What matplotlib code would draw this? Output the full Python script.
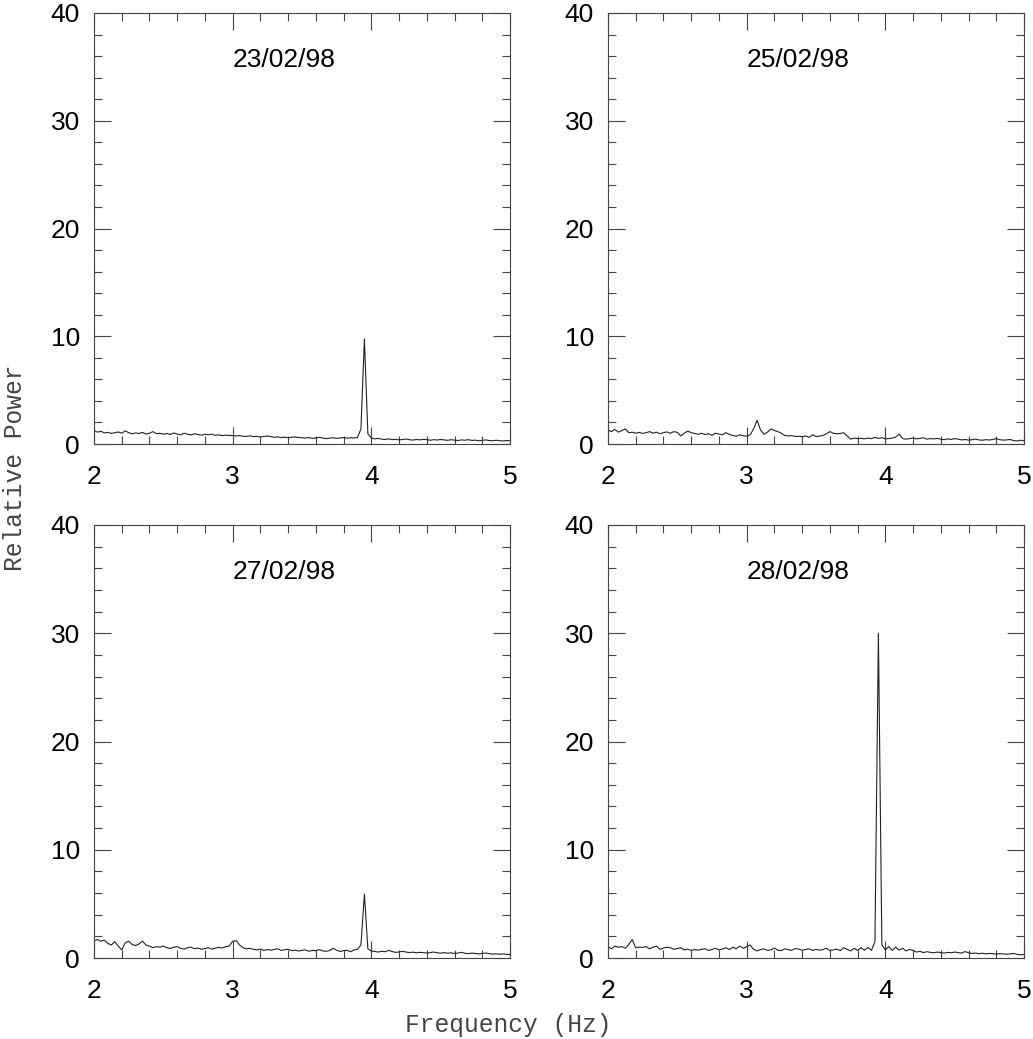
import numpy as np
import matplotlib
matplotlib.use("Agg")
import matplotlib.pyplot as plt
from matplotlib.ticker import MultipleLocator

# Frequency grid (Hz): 2.0 .. 5.0 in steps of 0.025
freq = np.linspace(2.0, 5.0, 121)

dates = ["23/02/98", "25/02/98", "27/02/98", "28/02/98"]

power_2302 = [
    1.25, 1.10, 1.18, 1.02, 1.08, 0.98, 1.05, 1.12, 1.00, 1.22, 1.05, 0.95, 1.02, 0.98, 1.08, 0.92, 1.00, 1.15, 0.95, 1.00, 0.90,
    0.98, 0.88, 1.02, 0.92, 0.85, 1.00, 0.90, 0.85, 0.95, 0.88, 0.82, 0.90, 0.85, 0.92, 0.80, 0.85, 0.78, 0.82, 0.80, 0.78,
    0.75, 0.78, 0.72, 0.70, 0.76, 0.68, 0.72, 0.65, 0.70, 0.74, 0.68, 0.62, 0.66, 0.60, 0.64, 0.58, 0.62, 0.66, 0.60, 0.58,
    0.55, 0.60, 0.52, 0.56, 0.62, 0.55, 0.50, 0.54, 0.58, 0.52, 0.56, 0.60, 0.54, 0.58, 0.56, 0.60,
    1.40, 9.75, 0.95,
    0.55, 0.48, 0.52, 0.45, 0.42, 0.48, 0.40, 0.44, 0.38, 0.42, 0.46, 0.40, 0.36, 0.42, 0.38, 0.44, 0.40, 0.35, 0.40, 0.37, 0.42,
    0.38, 0.34, 0.40, 0.36, 0.32, 0.38, 0.35, 0.40, 0.33, 0.36, 0.30, 0.34, 0.38, 0.32, 0.30, 0.35, 0.31, 0.28, 0.32, 0.30,
]

power_2502 = [
    1.30, 1.15, 1.35, 1.10, 1.25, 1.40, 1.05, 1.10, 1.00, 1.08, 0.98, 1.05, 1.15, 1.00, 1.10, 0.95, 1.05, 1.12, 1.00, 1.15, 1.08,
    0.75, 1.00, 1.20, 1.05, 0.98, 0.90, 1.00, 0.88, 0.95, 0.80, 1.00, 0.92, 0.85, 1.05, 0.88, 0.80, 0.72, 0.85, 0.78, 0.72,
    0.85, 1.40, 2.20, 1.30, 0.90, 1.10, 1.40, 1.25, 1.15, 1.00, 0.80, 0.75, 0.78, 0.70, 0.72, 0.68, 0.75, 0.62, 0.85, 0.70,
    0.72, 0.80, 0.95, 1.15, 1.00, 0.95, 0.98, 1.05, 0.75, 0.45, 0.55, 0.50, 0.52, 0.48, 0.55, 0.50, 0.62, 0.52, 0.58, 0.48,
    0.50, 0.55, 0.65, 0.92, 0.50, 0.45, 0.50, 0.55, 0.48, 0.52, 0.58, 0.45, 0.50, 0.48, 0.52, 0.45, 0.40, 0.48, 0.42, 0.50,
    0.45, 0.38, 0.42, 0.36, 0.40, 0.45, 0.38, 0.35, 0.40, 0.37, 0.42, 0.50, 0.40, 0.36, 0.38, 0.42, 0.32, 0.28, 0.35, 0.30,
]

power_2702 = [
    1.60, 1.70, 1.55, 1.65, 1.35, 1.20, 1.50, 1.10, 0.75, 1.40, 1.55, 1.25, 1.15, 1.30, 1.55, 1.20, 1.10, 0.95, 1.05, 1.00, 1.10,
    0.95, 0.88, 1.00, 1.05, 0.90, 0.82, 0.95, 1.00, 0.85, 0.92, 0.80, 0.88, 0.95, 0.82, 0.90, 1.00, 0.92, 1.05, 1.10, 1.55,
    1.60, 1.20, 0.95, 0.85, 0.90, 0.80, 0.75, 0.82, 0.70, 0.78, 0.72, 0.80, 0.85, 0.70, 0.75, 0.82, 0.68, 0.72, 0.65, 0.70,
    0.75, 0.62, 0.70, 0.68, 0.78, 0.65, 0.62, 0.70, 0.90, 0.72, 0.60, 0.68, 0.72, 0.58, 0.75, 0.80,
    1.20, 5.90, 0.85,
    0.65, 0.60, 0.55, 0.62, 0.58, 0.70, 0.60, 0.52, 0.56, 0.62, 0.55, 0.50, 0.54, 0.48, 0.52, 0.50, 0.46, 0.50, 0.55, 0.48, 0.45,
    0.50, 0.44, 0.48, 0.42, 0.46, 0.52, 0.44, 0.40, 0.45, 0.42, 0.38, 0.42, 0.46, 0.40, 0.36, 0.38, 0.35, 0.38, 0.34, 0.32,
]

power_2802 = [
    1.05, 0.85, 1.10, 1.00, 1.05, 0.90, 1.25, 1.70, 0.95, 1.00, 0.98, 1.05, 0.85, 1.00, 1.10, 0.80, 0.92, 1.00, 0.95, 0.80, 0.88,
    0.95, 0.75, 0.82, 0.70, 0.78, 0.72, 0.80, 0.85, 0.70, 0.78, 0.90, 0.75, 0.82, 0.95, 0.78, 1.00, 0.85, 1.10, 0.90, 1.05,
    1.20, 0.80, 0.65, 0.78, 0.85, 0.70, 0.75, 0.92, 0.72, 0.68, 0.85, 0.78, 0.70, 0.88, 0.82, 0.72, 0.78, 0.85, 0.70, 0.80,
    0.72, 0.78, 0.90, 0.70, 0.75, 0.82, 0.68, 0.95, 0.80, 0.65, 0.90, 0.70, 0.95, 0.72, 0.98, 0.70,
    1.50, 30.0, 1.20,
    0.75, 1.05, 0.70, 1.00, 0.72, 0.90, 0.65, 0.80, 0.70, 0.55, 0.62, 0.50, 0.58, 0.52, 0.48, 0.55, 0.50, 0.45, 0.52, 0.48, 0.55,
    0.50, 0.45, 0.60, 0.48, 0.42, 0.46, 0.40, 0.44, 0.38, 0.42, 0.40, 0.36, 0.40, 0.38, 0.35, 0.38, 0.42, 0.34, 0.30, 0.32,
]

series = [power_2302, power_2502, power_2702, power_2802]

xticks = [2, 3, 4, 5]
xticklabels = ["2", "3", "4", "5"]
yticks = [0, 10, 20, 30, 40]
yticklabels = ["0", "10", "20", "30", "40"]

W, H = 1033, 1039
fig = plt.figure(figsize=(W / 100, H / 100), dpi=100)

# panel rectangles in pixels: (left, top, right, bottom)
rects = [(94, 13, 510, 444), (608, 13, 1024, 444),
         (94, 525, 510, 958), (608, 525, 1024, 958)]

sans = ["Liberation Sans", "DejaVu Sans"]
lc = "#222222"

for (l, t, r, b), date, p in zip(rects, dates, series):
    ax = fig.add_axes([l / W, 1 - b / H, (r - l) / W, (b - t) / H])
    ax.plot(freq, p, color=lc, lw=0.8)
    ax.set_xlim(2, 5)
    ax.set_ylim(0, 40)
    ax.set_xticks(xticks)
    ax.set_xticklabels(xticklabels, fontfamily=sans, fontsize=19)
    ax.set_yticks(yticks)
    ax.set_yticklabels(yticklabels, fontfamily=sans, fontsize=19)
    ax.xaxis.set_minor_locator(MultipleLocator(0.2))
    ax.yaxis.set_minor_locator(MultipleLocator(2))
    ax.tick_params(which="both", direction="in", top=True, right=True,
                   color="#444444", width=0.8)
    ax.tick_params(which="major", length=12)
    ax.tick_params(which="minor", length=6)
    ax.tick_params(axis="x", which="major", pad=15)
    ax.tick_params(axis="y", which="major", pad=10)
    for s in ax.spines.values():
        s.set_color("#444444")
        s.set_linewidth(0.8)
    ax.text(3.0, 35.0, date, fontfamily=sans, fontsize=19, ha="left",
            va="baseline", color="black")

mono = ["Liberation Mono", "DejaVu Sans Mono"]
fig.text(508 / W, 1 - 1025 / H, "Frequency (Hz)", fontfamily=mono,
         fontsize=17.7, ha="center", va="center", color="#444444")
fig.text(15 / W, 1 - 468 / H, "Relative Power", fontfamily=mono,
         fontsize=17.7, ha="center", va="center", rotation=90, color="#444444")

fig.savefig("out.png", dpi=100)
